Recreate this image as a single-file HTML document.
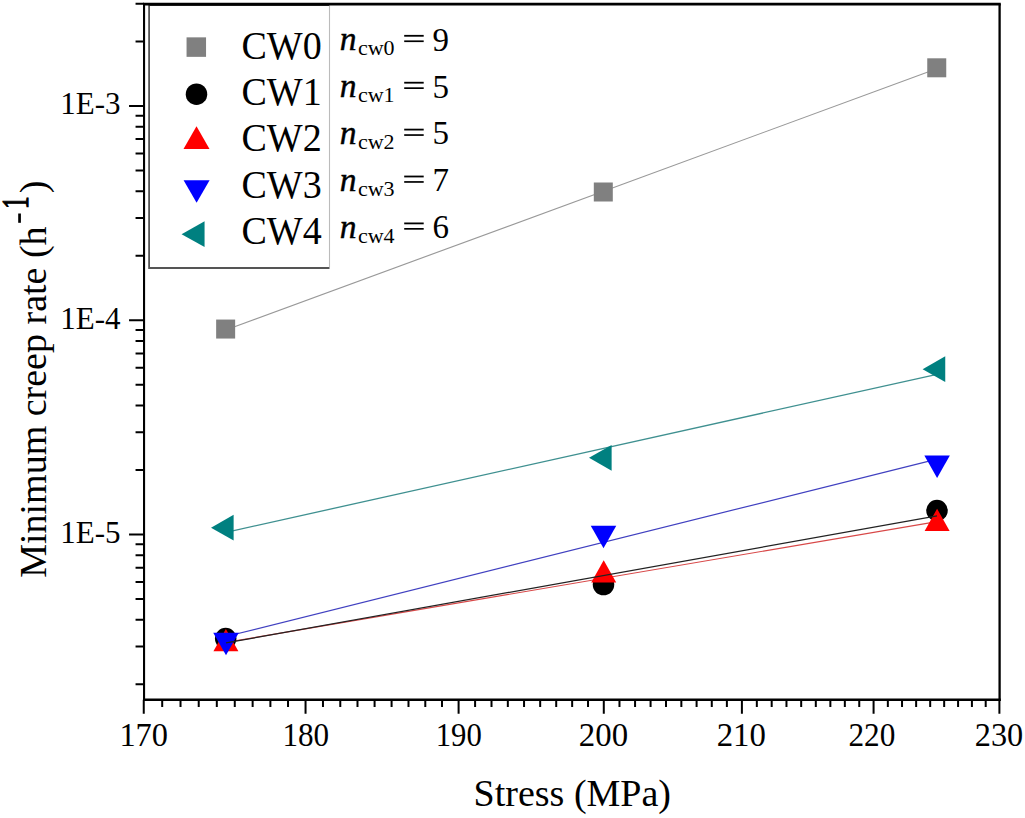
<!DOCTYPE html>
<html><head><meta charset="utf-8"><style>html,body{margin:0;padding:0;background:#fff;}svg{display:block;}</style></head>
<body><svg width="1025" height="818" viewBox="0 0 1025 818">
<rect x="0" y="0" width="1025" height="818" fill="#fff"/>
<path d="M149.1,3 V268 H329.5" fill="none" stroke="#555" stroke-width="1.8"/>
<path d="M149.1,5.3 H329.5" fill="none" stroke="#333" stroke-width="1.4"/>
<path d="M329.5,3 V267" fill="none" stroke="#bbb" stroke-width="1.1"/>
<path d="M135.55,684.29H144.05M135.55,646.55H144.05M135.55,619.78H144.05M135.55,599.01H144.05M135.55,582.04H144.05M135.55,567.70H144.05M135.55,555.27H144.05M135.55,544.31H144.05M129.05,534.50H144.05M135.55,469.99H144.05M135.55,432.25H144.05M135.55,405.48H144.05M135.55,384.71H144.05M135.55,367.74H144.05M135.55,353.40H144.05M135.55,340.97H144.05M135.55,330.01H144.05M129.05,320.20H144.05M135.55,255.69H144.05M135.55,217.95H144.05M135.55,191.18H144.05M135.55,170.41H144.05M135.55,153.44H144.05M135.55,139.10H144.05M135.55,126.67H144.05M135.55,115.71H144.05M129.05,105.90H144.05M135.55,41.39H144.05M135.55,3.65H144.05M143.75,699.80V713.80M162.20,699.80V707.10M180.52,699.80V707.10M198.72,699.80V707.10M216.81,699.80V707.10M234.78,699.80V707.10M252.64,699.80V707.10M270.39,699.80V707.10M288.02,699.80V707.10M305.55,699.80V713.80M322.97,699.80V707.10M340.28,699.80V707.10M357.49,699.80V707.10M374.59,699.80V707.10M391.59,699.80V707.10M408.49,699.80V707.10M425.29,699.80V707.10M441.99,699.80V707.10M458.60,699.80V713.80M475.10,699.80V707.10M491.51,699.80V707.10M507.83,699.80V707.10M524.05,699.80V707.10M540.18,699.80V707.10M556.21,699.80V707.10M572.16,699.80V707.10M588.02,699.80V707.10M603.79,699.80V713.80M619.47,699.80V707.10M635.07,699.80V707.10M650.58,699.80V707.10M666.00,699.80V707.10M681.35,699.80V707.10M696.60,699.80V707.10M711.78,699.80V707.10M726.88,699.80V707.10M741.90,699.80V713.80M756.83,699.80V707.10M771.69,699.80V707.10M786.47,699.80V707.10M801.18,699.80V707.10M815.81,699.80V707.10M830.36,699.80V707.10M844.84,699.80V707.10M859.25,699.80V707.10M873.58,699.80V713.80M887.84,699.80V707.10M902.03,699.80V707.10M916.14,699.80V707.10M930.19,699.80V707.10M944.17,699.80V707.10M958.08,699.80V707.10M971.92,699.80V707.10M985.70,699.80V707.10M999.40,699.80V713.80" stroke="#000" stroke-width="2" fill="none"/>
<path d="M143.0,4.1H1000.75" stroke="#000" stroke-width="2.6"/>
<path d="M144.05,3.8V701.0" stroke="#000" stroke-width="2.1"/>
<path d="M999.6,3.8V701.0" stroke="#000" stroke-width="2.3"/>
<path d="M143.0,699.8H1000.75" stroke="#000" stroke-width="2.5"/>
<line x1="225.65" y1="330.0" x2="936.75" y2="68.8" stroke="#999" stroke-width="1.15"/>
<line x1="226" y1="636.5" x2="937" y2="459.1" stroke="#4040c0" stroke-width="1.2"/>
<line x1="226" y1="642.4" x2="937" y2="521.6" stroke="#d84848" stroke-width="1.2"/>
<line x1="226" y1="532.3" x2="937" y2="374.3" stroke="#3f9090" stroke-width="1.3"/>
<rect x="216.15" y="319.55" width="19" height="19" fill="#808080"/><rect x="593.80" y="182.50" width="19" height="19" fill="#808080"/><rect x="927.25" y="58.30" width="19" height="19" fill="#808080"/>
<circle cx="225.70" cy="638.50" r="10.75" fill="#000"/><circle cx="603.50" cy="584.60" r="10.75" fill="#000"/><circle cx="937.00" cy="510.50" r="10.75" fill="#000"/>
<path d="M225.90,629.03L238.40,651.33L213.40,651.33Z" fill="#f00"/><path d="M603.70,560.23L616.20,582.53L591.20,582.53Z" fill="#f00"/><path d="M937.10,508.63L949.60,530.93L924.60,530.93Z" fill="#f00"/>
<path d="M213.25,632.70L238.75,632.70L226.00,655.20Z" fill="#00f"/><path d="M590.75,525.80L616.25,525.80L603.50,548.30Z" fill="#00f"/><path d="M924.35,455.60L949.85,455.60L937.10,478.10Z" fill="#00f"/>
<path d="M211.03,527.70L233.63,514.80L233.63,540.60Z" fill="#008080"/><path d="M589.03,457.80L611.63,444.90L611.63,470.70Z" fill="#008080"/><path d="M922.63,369.20L945.23,356.30L945.23,382.10Z" fill="#008080"/>
<line x1="226" y1="642.9" x2="937" y2="515.9" stroke="#222" stroke-width="1.2"/>
<rect x="186.55" y="37.35" width="19.5" height="19.5" fill="#808080"/><circle cx="196.50" cy="94.20" r="10.75" fill="#000"/><path d="M196.50,126.33L209.50,148.93L183.50,148.93Z" fill="#f00"/><path d="M183.60,180.17L209.60,180.17L196.60,202.77Z" fill="#00f"/><path d="M181.57,234.20L204.57,221.35L204.57,247.05Z" fill="#008080"/>
<g font-family="&quot;Liberation Serif&quot;, serif" fill="#000"><text transform="translate(120.6,114.20) scale(0.955,1)" text-anchor="end" font-size="32.5">1E-3</text><text transform="translate(120.6,328.50) scale(0.955,1)" text-anchor="end" font-size="32.5">1E-4</text><text transform="translate(120.6,542.80) scale(0.955,1)" text-anchor="end" font-size="32.5">1E-5</text><text transform="translate(143.70,746.2) scale(0.968,1)" text-anchor="middle" font-size="33.5">170</text><text transform="translate(305.75,746.2) scale(0.93,1)" text-anchor="middle" font-size="33.5">180</text><text transform="translate(458.70,746.2) scale(0.918,1)" text-anchor="middle" font-size="33.5">190</text><text transform="translate(603.44,746.2) scale(0.98,1)" text-anchor="middle" font-size="33.5">200</text><text transform="translate(741.30,746.2) scale(0.98,1)" text-anchor="middle" font-size="33.5">210</text><text transform="translate(871.88,746.2) scale(0.934,1)" text-anchor="middle" font-size="33.5">220</text><text transform="translate(999.00,746.2) scale(0.963,1)" text-anchor="middle" font-size="33.5">230</text><text x="473.6" y="805.65" font-size="38">Stress (MPa)</text><text transform="translate(45.7,577.8) rotate(-90)" font-size="38">Minimum creep rate (h</text><rect x="18.2" y="213.5" width="2.7" height="9.3"/><text transform="translate(28.1,209.0) rotate(-90) scale(0.656,1)" font-size="38.9" stroke="#000" stroke-width="1.2">1</text><text transform="translate(45.7,193.2) rotate(-90)" font-size="38">)</text><text transform="translate(241.4,58.50) scale(0.975,1)" font-size="39">CW0</text><text transform="translate(241.4,104.95) scale(0.975,1)" font-size="39">CW1</text><text transform="translate(241.4,151.40) scale(0.975,1)" font-size="39">CW2</text><text transform="translate(241.4,197.85) scale(0.975,1)" font-size="39">CW3</text><text transform="translate(241.4,244.30) scale(0.975,1)" font-size="39">CW4</text><text x="339.86" y="49.95" font-size="33.5" font-style="italic" stroke="#000" stroke-width="0.45">n</text><text x="357.96" y="55.40" font-size="22">cw0</text><rect x="404.2" y="34.90" width="19.5" height="1.8"/><rect x="404.2" y="40.40" width="19.5" height="1.7"/><text x="432.5" y="50.60" font-size="33">9</text><text x="339.86" y="96.85" font-size="33.5" font-style="italic" stroke="#000" stroke-width="0.45">n</text><text x="357.96" y="102.30" font-size="22">cw1</text><rect x="404.2" y="81.80" width="19.5" height="1.8"/><rect x="404.2" y="87.30" width="19.5" height="1.7"/><text x="432.5" y="97.50" font-size="33">5</text><text x="339.86" y="143.75" font-size="33.5" font-style="italic" stroke="#000" stroke-width="0.45">n</text><text x="357.96" y="149.20" font-size="22">cw2</text><rect x="404.2" y="128.70" width="19.5" height="1.8"/><rect x="404.2" y="134.20" width="19.5" height="1.7"/><text x="432.5" y="144.40" font-size="33">5</text><text x="339.86" y="190.65" font-size="33.5" font-style="italic" stroke="#000" stroke-width="0.45">n</text><text x="357.96" y="196.10" font-size="22">cw3</text><rect x="404.2" y="175.60" width="19.5" height="1.8"/><rect x="404.2" y="181.10" width="19.5" height="1.7"/><text x="432.5" y="191.30" font-size="33">7</text><text x="339.86" y="237.55" font-size="33.5" font-style="italic" stroke="#000" stroke-width="0.45">n</text><text x="357.96" y="243.00" font-size="22">cw4</text><rect x="404.2" y="222.50" width="19.5" height="1.8"/><rect x="404.2" y="228.00" width="19.5" height="1.7"/><text x="432.5" y="238.20" font-size="33">6</text></g>
</svg></body></html>
